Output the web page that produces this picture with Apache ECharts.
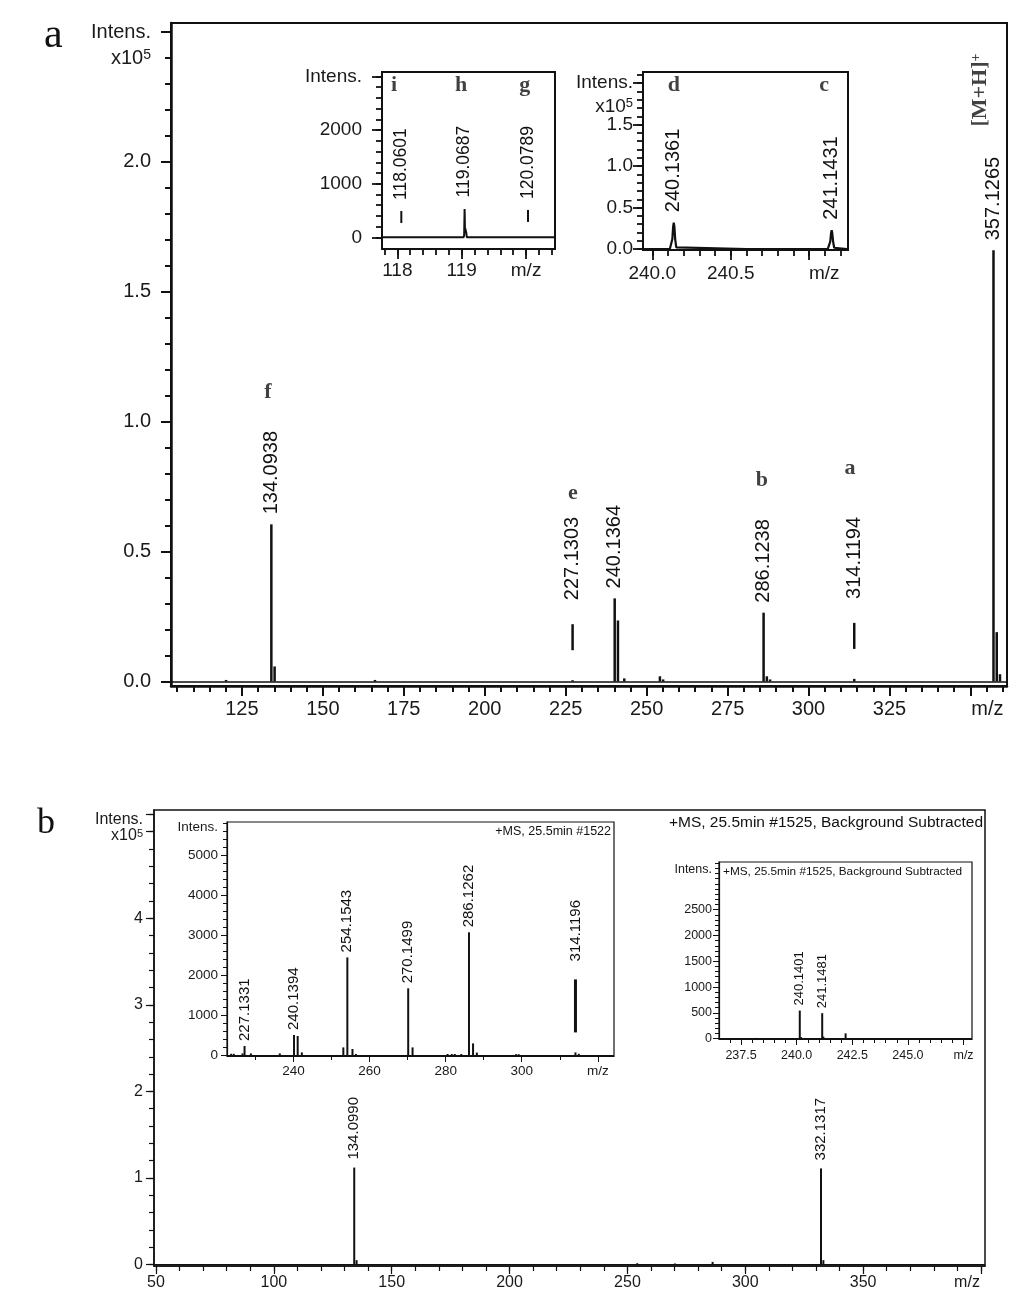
<!DOCTYPE html>
<html>
<head>
<meta charset="utf-8">
<script src="https://cdn.jsdelivr.net/npm/echarts@6/dist/echarts.min.js"></script>
<style>
  html, body { margin: 0; padding: 0; background: #fff; }
  #chart { width: 1024px; height: 1311px; }
</style>
</head>
<body>
<div id="chart"></div>
<script>
const FONT = '"Liberation Sans", Arial, sans-serif';
const SERIF = '"Liberation Serif", "Times New Roman", serif';

// ---------- panel a : main spectrum (Intens. x10^5) ----------
const aMz  = [120.1, 134.0938, 135.1, 166.1, 227.1303, 240.1364, 241.14, 243.1, 254.1, 255.1, 286.1238, 287.13, 288.13, 314.1194, 357.1265, 358.13, 359.13];
const aInt = [0.006, 0.605, 0.058, 0.006, 0.005, 0.32, 0.235, 0.012, 0.02, 0.008, 0.265, 0.02, 0.008, 0.01, 1.66, 0.19, 0.028];
const aLbl = ['', '134.0938', '', '', '227.1303', '240.1364', '', '', '', '', '286.1238', '', '', '314.1194', '357.1265', '', ''];
const aLead = ['227.1303', '314.1194'];      // labels drawn with a leader bar
const aTagMz = [133.06, 227.26, 285.6, 312.8, 352.96];
const aTagY  = [1.115, 0.726, 0.776, 0.822, 2.277];
const aTag   = ['f', 'e', 'b', 'a', '[M+H]{p|+}'];
const aXVals = [125, 150, 175, 200, 225, 250, 275, 300, 325, 350];
const aXText = ['125', '150', '175', '200', '225', '250', '275', '300', '325', '{mz|m/z}'];
const aYVals = [0, 0.5, 1, 1.5, 2, 2.4, 2.5];
const aYText = ['0.0', '0.5', '1.0', '1.5', '2.0', 'x10{p|5}', 'Intens.'];

// inset a1 (118-120)
const a1Mz  = [117.76, 118.05, 118.058, 118.062, 118.068, 119.03, 119.038, 119.045, 119.05, 119.06, 119.07, 119.08, 120.02, 120.03, 120.04, 120.055, 120.449];
const a1Int = [0, 0, 8, 15, 0, 0, 40, 528, 190, 160, 90, 0, 0, 35, 12, 0, 0];
const a1Lbl = ['', '', '', '118.0601', '', '', '', '119.0687', '', '', '', '', '', '120.0789', '', '', ''];
const a1Lead = ['118.0601', '120.0789'];
const a1TagMz = [117.949, 118.99, 119.98];
const a1TagY  = [2841, 2841, 2841];
const a1Tag   = ['i', 'h', 'g'];
const a1XVals = [118, 119, 120];
const a1XText = ['118', '119', 'm/z'];
const a1YVals = [0, 1000, 2000, 3000];
const a1YText = ['0', '1000', '2000', 'Intens.'];

// inset a2 (240-241, x10^5)
const a2Mz  = [239.945, 240.112, 240.121, 240.128, 240.133, 240.137, 240.141, 240.146, 240.153, 240.162, 240.6, 241.118, 241.127, 241.134, 241.139, 241.143, 241.147, 241.152, 241.159, 241.168, 241.24];
const a2Int = [0, 0, 0.02, 0.12, 0.27, 0.318, 0.27, 0.12, 0.02, 0, 0, 0, 0.015, 0.09, 0.19, 0.226, 0.19, 0.09, 0.015, 0, 0];
const a2Lbl = ['', '', '', '', '', '240.1361', '', '', '', '', '', '', '', '', '', '241.1431', '', '', '', '', ''];
const a2TagMz = [240.138, 241.095];
const a2TagY  = [1.977, 1.977];
const a2Tag   = ['d', 'c'];
const a2XVals = [240.0, 240.5, 241.0];
const a2XText = ['240.0', '240.5', '{mz|m/z}'];
const a2YVals = [0, 0.5, 1, 1.5, 1.72, 2.0];
const a2YText = ['0.0', '0.5', '1.0', '1.5', 'x10{p|5}', 'Intens.'];

// ---------- panel b : main spectrum (Intens. x10^5) ----------
const bMz  = [134.099, 135.1, 254.15, 270.15, 286.13, 332.1317, 333.13];
const bInt = [1.12, 0.05, 0.015, 0.012, 0.03, 1.11, 0.05];
const bLbl = ['134.0990', '', '', '', '', '332.1317', ''];
const bXVals = [50, 100, 150, 200, 250, 300, 350, 400];
const bXText = ['50', '100', '150', '200', '250', '300', '350', '{mz|m/z}'];
const bYVals = [0, 1, 2, 3, 4, 4.95, 5.135];
const bYText = ['0', '1', '2', '3', '4', 'x10{p|5}', 'Intens.'];

// inset b1 (+MS, 25.5min #1522)
const b1Mz  = [223.6, 224.3, 226.6, 227.1331, 228.8, 236.4, 240.1394, 241.1, 242.2, 253.1, 254.1543, 255.5, 256.4, 270.1499, 271.3, 280.5, 281.6, 282.4, 284.1, 286.1262, 287.2, 288.2, 298.5, 299.2, 314.1196, 315.0];
const b1Int = [30, 30, 40, 225, 40, 40, 500, 475, 65, 190, 2440, 150, 25, 1667, 190, 25, 25, 25, 25, 3067, 290, 60, 20, 20, 65, 30];
const b1Lbl = ['', '', '', '227.1331', '', '', '240.1394', '', '', '', '254.1543', '', '', '270.1499', '', '', '', '', '', '286.1262', '', '', '', '', '314.1196', ''];
const b1Lead = ['314.1196'];
const b1XVals = [240, 260, 280, 300, 320];
const b1XText = ['240', '260', '280', '300', 'm/z'];
const b1YVals = [0, 1000, 2000, 3000, 4000, 5000, 5700];
const b1YText = ['0', '1000', '2000', '3000', '4000', '5000', 'Intens.'];

// inset b2 (+MS, 25.5min #1525, Background Subtracted)
const b2Mz  = [238.2, 240.1401, 240.2, 241.1481, 241.2, 242.2, 245.9];
const b2Int = [15, 545, 30, 494, 40, 103, 8];
const b2Lbl = ['', '240.1401', '', '241.1481', '', '', ''];
const b2XVals = [237.5, 240.0, 242.5, 245.0, 247.5];
const b2XText = ['237.5', '240.0', '242.5', '245.0', 'm/z'];
const b2YVals = [0, 500, 1000, 1500, 2000, 2500, 3270];
const b2YText = ['0', '500', '1000', '1500', '2000', '2500', 'Intens.'];

// ---------- helpers ----------
function steps(a, b, s) {
  const out = [];
  const n = Math.round((b - a) / s);
  for (let i = 0; i <= n; i++) out.push(+(a + i * s).toFixed(4));
  return out;
}
function pick(vals, txt) {
  return function (v) {
    for (let i = 0; i < vals.length; i++) {
      if (Math.abs(v - vals[i]) < 1e-6) return txt[i];
    }
    return '';
  };
}
function axisPair(dim, g, min, max, minor, major, lv, lt, st, margin) {
  const base = { type: 'value', gridIndex: g, min: min, max: max, position: dim === 'x' ? 'bottom' : 'left', splitLine: { show: false } };
  const tick = { color: '#111', width: st.tw };
  return [
    Object.assign({}, base, {
      axisLine: { show: true, onZero: false, lineStyle: { color: '#111', width: st.lw } },
      axisTick: { show: true, customValues: minor, length: st.minLen, lineStyle: tick },
      axisLabel: { show: false }
    }),
    Object.assign({}, base, {
      axisLine: { show: false, onZero: false },
      axisTick: { show: true, customValues: major, length: st.majLen, lineStyle: tick },
      axisLabel: {
        show: true, customValues: lv, formatter: pick(lv, lt), margin: margin,
        fontSize: st.fs, fontFamily: FONT, color: '#1a1a1a',
        rich: {
          p: { fontSize: Math.round(st.fs * 0.7), fontFamily: FONT, color: '#1a1a1a', verticalAlign: 'top' },
          mz: { fontSize: st.fs, fontFamily: FONT, color: '#1a1a1a', padding: st.mzPad || [0, 0, 0, 0] }
        }
      }
    })
  ];
}
function labelFor(txt, lead, st) {
  const l = { show: true, position: 'top', rotate: 90, align: 'left', verticalAlign: 'middle', color: '#111', fontSize: st.lfs, fontFamily: FONT };
  if (lead) {
    l.distance = st.leadDist;
    l.formatter = '{bar| }{gap| }{t|' + txt + '}';
    l.rich = {
      bar: { width: st.barLen, height: st.barTh, backgroundColor: '#111' },
      gap: { width: st.gap },
      t: { fontSize: st.lfs, fontFamily: FONT, color: '#111' }
    };
  } else {
    l.distance = st.dist;
    l.formatter = txt;
  }
  return l;
}
function peakData(mz, val, lbl, lead, st) {
  return mz.map(function (m, i) {
    const d = { value: [m, val[i]] };
    if (lbl[i]) d.label = labelFor(lbl[i], lead.indexOf(lbl[i]) >= 0, st);
    return d;
  });
}
function barSeries(ax, mz, val, lbl, lead, st) {
  return {
    type: 'bar', xAxisIndex: ax, yAxisIndex: ax, barWidth: st.bw, silent: true,
    itemStyle: { color: '#111' },
    data: peakData(mz, val, lbl, lead, st),
    markLine: { silent: true, symbol: 'none', label: { show: false }, lineStyle: { color: '#111', width: st.base, type: 'solid' }, data: [{ yAxis: 0 }] }
  };
}
function lineSeries(ax, mz, val, lbl, lead, st) {
  return {
    type: 'line', xAxisIndex: ax, yAxisIndex: ax, silent: true,
    showSymbol: true, symbol: 'circle', symbolSize: 1, smooth: false,
    itemStyle: { color: 'rgba(0,0,0,0)' },
    lineStyle: { color: '#111', width: st.pw },
    data: peakData(mz, val, lbl, lead, st)
  };
}
function tagSeries(ax, mz, y, tags, fs) {
  return {
    type: 'scatter', xAxisIndex: ax, yAxisIndex: ax, silent: true, symbolSize: 1,
    itemStyle: { color: 'rgba(0,0,0,0)' },
    data: mz.map(function (m, i) {
      return {
        value: [m, y[i]],
        label: {
          show: true, position: 'inside', formatter: tags[i], rotate: tags[i].charAt(0) === '[' ? 90 : 0,
          fontSize: fs, fontWeight: 'bold', fontFamily: SERIF, color: '#111',
          rich: { p: { fontSize: Math.round(fs * 0.65), fontWeight: 'bold', fontFamily: SERIF, color: '#111', verticalAlign: 'top' } }
        }
      };
    })
  };
}

// ---------- styles ----------
const stA  = { lw: 2.5, tw: 2, minLen: 6, majLen: 10, fs: 20, mzPad: [0, 0, 0, 34], lfs: 20, dist: 10, leadDist: 30, barLen: 26, barTh: 2.5, gap: 24, bw: 2.5, base: 1.5 };
const stA1 = { lw: 2, tw: 1.8, minLen: 6, majLen: 10, fs: 19, lfs: 17.5, dist: 11, leadDist: 13, barLen: 12, barTh: 2, gap: 11, pw: 2 };
const stA2 = { lw: 2, tw: 1.8, minLen: 6, majLen: 10, fs: 19, mzPad: [0, 0, 0, 30], lfs: 20, dist: 10, pw: 2.2 };
const stB  = { lw: 1.5, tw: 1.2, minLen: 5, majLen: 8, fs: 16, mzPad: [0, 28, 0, 0], lfs: 15, dist: 8, bw: 2, base: 1.2 };
const stB1 = { lw: 1.2, tw: 1, minLen: 4, majLen: 6, fs: 13.5, lfs: 15, dist: 5, leadDist: 20, barLen: 53, barTh: 3, gap: 18, bw: 2, base: 1 };
const stB2 = { lw: 1.2, tw: 1, minLen: 4, majLen: 6, fs: 12.5, lfs: 13, dist: 5, bw: 2, base: 1 };

const grids = [
  { left: 171, top: 23, width: 836, height: 663, bw: 2 },    // a main
  { left: 382, top: 72, width: 173, height: 177, bw: 2 },    // a inset 1
  { left: 643, top: 72, width: 205, height: 178, bw: 2 },    // a inset 2
  { left: 154, top: 810, width: 831, height: 456, bw: 1.5 }, // b main
  { left: 227, top: 822, width: 387, height: 234, bw: 1.2 }, // b inset 1
  { left: 719, top: 862, width: 253, height: 177, bw: 1.2 }  // b inset 2
].map(function (g) {
  return { left: g.left, top: g.top, width: g.width, height: g.height, show: true, backgroundColor: '#fff', borderColor: '#111', borderWidth: g.bw, containLabel: false };
});

const xAxes = [].concat(
  axisPair('x', 0, 103.1, 361.3, steps(105, 360, 5), steps(125, 350, 25), aXVals, aXText, stA, 13),
  axisPair('x', 1, 117.762, 120.449, steps(117.8, 120.4, 0.2), [118, 119, 120], a1XVals, a1XText, stA1, 12),
  axisPair('x', 2, 239.941, 241.247, steps(240.0, 241.2, 0.1), [240.0, 240.5, 241.0], a2XVals, a2XText, stA2, 14),
  axisPair('x', 3, 49.15, 401.7, steps(50, 400, 10), steps(50, 400, 50), bXVals, bXText, stB, 9),
  axisPair('x', 4, 222.52, 324.25, steps(230, 320, 10), [240, 260, 280, 300, 320], b1XVals, b1XText, stB1, 8),
  axisPair('x', 5, 236.51, 247.88, steps(237, 247.5, 0.5), [237.5, 240, 242.5, 245, 247.5], b2XVals, b2XText, stB2, 10)
);
const yAxes = [].concat(
  axisPair('y', 0, -0.0173, 2.535, steps(0, 2.5, 0.1), steps(0, 2.5, 0.5), aYVals, aYText, stA, 20),
  axisPair('y', 1, -218, 3084, steps(0, 3000, 200), [0, 1000, 2000, 3000], a1YVals, a1YText, stA1, 20),
  axisPair('y', 2, -0.012, 2.135, steps(0, 2.1, 0.1), steps(0, 2.0, 0.5), a2YVals, a2YText, stA2, 10),
  axisPair('y', 3, -0.0173, 5.251, steps(0, 5.2, 0.2), steps(0, 5, 1).concat([5.2]), bYVals, bYText, stB, 11),
  axisPair('y', 4, -25, 5825, steps(0, 5800, 200), steps(0, 5000, 1000), b1YVals, b1YText, stB1, 9),
  axisPair('y', 5, -6, 3423, steps(0, 3400, 100), steps(0, 2500, 500), b2YVals, b2YText, stB2, 7)
);

const series = [
  barSeries(1, aMz, aInt, aLbl, aLead, stA),
  tagSeries(1, aTagMz, aTagY, aTag, 22),
  lineSeries(3, a1Mz, a1Int, a1Lbl, a1Lead, stA1),
  tagSeries(3, a1TagMz, a1TagY, a1Tag, 22),
  lineSeries(5, a2Mz, a2Int, a2Lbl, [], stA2),
  tagSeries(5, a2TagMz, a2TagY, a2Tag, 22),
  barSeries(7, bMz, bInt, bLbl, [], stB),
  barSeries(9, b1Mz, b1Int, b1Lbl, b1Lead, stB1),
  barSeries(11, b2Mz, b2Int, b2Lbl, [], stB2)
];

const chart = echarts.init(document.getElementById('chart'));
chart.setOption({
  animation: false,
  backgroundColor: '#fff',
  grid: grids,
  xAxis: xAxes,
  yAxis: yAxes,
  series: series,
  graphic: [
    { type: 'text', x: 44, y: 36, style: { text: 'a', font: '42px ' + SERIF, fill: '#111', textVerticalAlign: 'middle' } },
    { type: 'text', x: 37, y: 824, style: { text: 'b', font: '36px ' + SERIF, fill: '#111', textVerticalAlign: 'middle' } },
    { type: 'text', x: 983, y: 823, style: { text: '+MS, 25.5min #1525, Background Subtracted', font: '15.5px ' + FONT, fill: '#111', textAlign: 'right', textVerticalAlign: 'middle' } },
    { type: 'text', x: 611, y: 832, style: { text: '+MS, 25.5min #1522', font: '12.5px ' + FONT, fill: '#111', textAlign: 'right', textVerticalAlign: 'middle' } },
    { type: 'text', x: 723, y: 872, style: { text: '+MS, 25.5min #1525, Background Subtracted', font: '11.8px ' + FONT, fill: '#111', textAlign: 'left', textVerticalAlign: 'middle' } }
  ]
});
</script>
</body>
</html>
